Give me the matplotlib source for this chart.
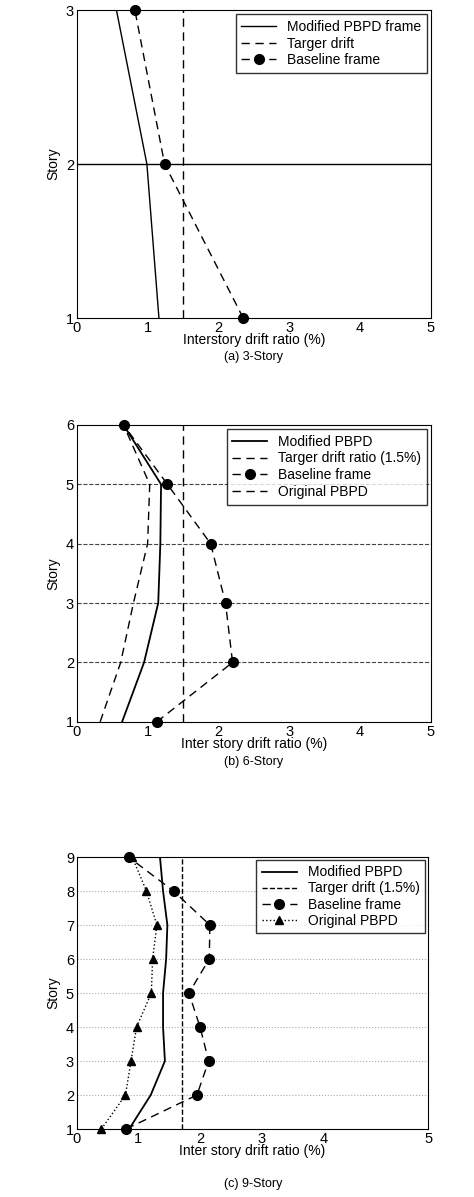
import matplotlib
matplotlib.use("Agg")
import matplotlib.pyplot as plt

# Panel a
a_story = [1, 2, 3]
a_mod = [1.16, 0.99, 0.56]
a_base = [2.35, 1.24, 0.82]
a_target = 1.5
# Panel b
b_story = [1, 2, 3, 4, 5, 6]
b_mod = [0.64, 0.95, 1.15, 1.18, 1.19, 0.66]
b_base = [1.13, 2.2, 2.1, 1.89, 1.28, 0.66]
b_orig = [0.33, 0.62, 0.8, 1.0, 1.03, 0.66]
b_target = 1.5
# Panel c
c_story = [1, 2, 3, 4, 5, 6, 7, 8, 9]
c_mod = [0.85, 1.2, 1.43, 1.4, 1.4, 1.45, 1.47, 1.4, 1.35]
c_base = [0.8, 1.95, 2.14, 2.0, 1.82, 2.15, 2.16, 1.57, 0.84]
c_orig = [0.4, 0.79, 0.88, 0.97, 1.21, 1.23, 1.3, 1.13, 0.9]
c_target = 1.7

plt.rcParams['font.family'] = ['Liberation Sans', 'DejaVu Sans']
fig = plt.figure(figsize=(4.74, 11.97), dpi=100)
fs = 10.5
lfs = 10
dash = (0, (6, 4))

def style(ax, ymax, xlabel, caption, capy):
    ax.set_xlim(0, 5)
    ax.set_ylim(1, ymax)
    ax.set_yticks(range(1, ymax + 1))
    ax.set_xticks(range(6))
    ax.set_xlabel(xlabel, fontsize=fs - 0.5, labelpad=-1)
    ax.set_ylabel("Story", fontsize=fs - 0.5)
    ax.tick_params(labelsize=fs, length=0, pad=2)
    fig.text(0.535, capy, caption, ha='center', fontsize=9)

ax = fig.add_axes([0.162, 0.7343, 0.747, 0.2573])
ax.axhline(2, color='k', lw=1)
ax.plot(a_mod, a_story, 'k-', lw=1, label='Modified PBPD frame')
ax.axvline(a_target, color='k', ls=dash, lw=1, label='Targer drift')
ax.plot(a_base, a_story, 'k', ls=dash, marker='o', ms=7, lw=1, label='Baseline frame', clip_on=False)
style(ax, 3, "Interstory drift ratio (%)", "(a) 3-Story", 0.699)
ax.legend(loc='upper right', fontsize=lfs, frameon=True, fancybox=False, edgecolor='k', handlelength=2.5,
          borderaxespad=0.3, labelspacing=0.2)

ax = fig.add_axes([0.162, 0.397, 0.747, 0.248])
for s in [2, 3, 4, 5]:
    ax.axhline(s, color='#444', ls='--', lw=0.8)
ax.plot(b_mod, b_story, 'k-', lw=1.3, label='Modified PBPD')
ax.axvline(b_target, color='k', ls=dash, lw=1, label='Targer drift ratio (1.5%)')
ax.plot(b_base, b_story, 'k', ls=dash, marker='o', ms=7, lw=1, label='Baseline frame', clip_on=False)
ax.plot(b_orig, b_story, color='k', ls=dash, lw=1, label='Original PBPD')
style(ax, 6, "Inter story drift ratio (%)", "(b) 6-Story", 0.361)
ax.legend(loc='upper right', fontsize=lfs, frameon=True, fancybox=False, edgecolor='k', handlelength=2.5,
          borderaxespad=0.3, labelspacing=0.2)

ax = fig.add_axes([0.162, 0.0568, 0.741, 0.2272])
for s in range(2, 9):
    ax.axhline(s, color='#aaa', ls=':', lw=0.8)
ax.plot(c_mod, c_story, 'k-', lw=1.3, label='Modified PBPD')
ax.axvline(c_target, color='k', ls='--', lw=1, label='Targer drift (1.5%)')
ax.plot(c_base, c_story, 'k', ls=dash, marker='o', ms=7, lw=1, label='Baseline frame', clip_on=False)
ax.plot(c_orig, c_story, 'k:', marker='^', ms=6, lw=1, label='Original PBPD', clip_on=False)
style(ax, 9, "Inter story drift ratio (%)", "(c) 9-Story", 0.008)
ax.set_xlim(0, 5.7)
ax.set_xticks([0, 1, 2, 3, 4, 5.7])
ax.set_xticklabels(['0', '1', '2', '3', '4', '5'])
ax.legend(loc='upper right', fontsize=lfs, frameon=True, fancybox=False, edgecolor='k', handlelength=2.5,
          borderaxespad=0.2, labelspacing=0.15)

fig.savefig("out.png", dpi=100)
